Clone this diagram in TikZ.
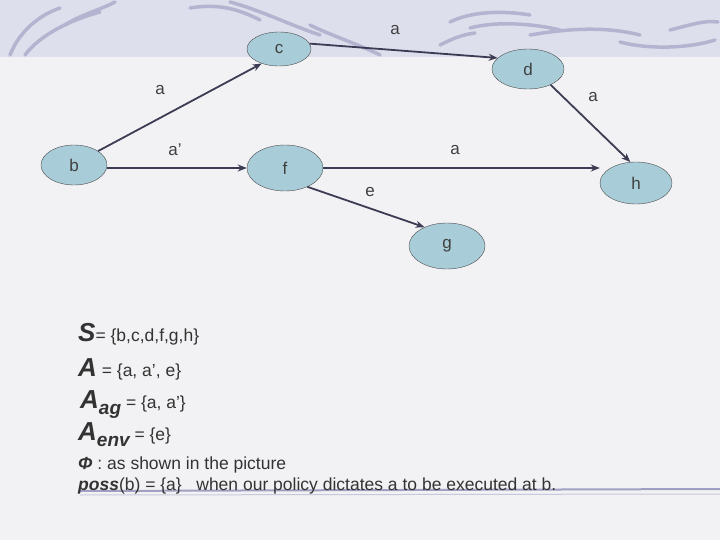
\documentclass[tikz,border=0pt]{standalone}
\usepackage{fontspec}
\setmainfont{Liberation Sans}
\usetikzlibrary{arrows.meta,shapes.geometric}
\definecolor{bgc}{RGB}{242,242,244}
\definecolor{topc}{RGB}{222,223,236}
\definecolor{wavc}{RGB}{180,180,208}
\definecolor{nodec}{RGB}{168,204,216}
\definecolor{arc}{RGB}{60,60,85}
\definecolor{ln1}{RGB}{160,160,195}
\definecolor{ln2}{RGB}{200,200,220}
\newcommand{\BL}[1]{{\fontsize{26}{28}\selectfont\bfseries\itshape #1}}
\newcommand{\SB}[1]{\raisebox{-6pt}{\fontsize{19}{19}\selectfont\bfseries\itshape #1}}
\begin{document}
\begin{tikzpicture}[x=1pt,y=-1pt,
  st/.style={draw=black!70,fill=nodec,ellipse,inner sep=0pt,font=\fontsize{17}{19}\selectfont,text=black!75},
  ar/.style={draw=arc,line width=1.8pt,-{Stealth[length=9pt,width=7pt]}},
  lb/.style={font=\fontsize{17}{19}\selectfont,text=black!75},
  tx/.style={font=\fontsize{17.5}{19}\selectfont,text=black!80,anchor=base west,inner sep=0pt}]
\useasboundingbox (0,0) rectangle (720,540);
\fill[bgc] (0,0) rectangle (720,540);
\fill[topc] (0,0) rectangle (720,57);
\begin{scope}[draw=wavc,line width=3.5pt,line cap=round]
\draw (10,55) .. controls (20,30) and (40,15) .. (60,8);
\draw (25,55) .. controls (40,35) and (70,20) .. (100,12);
\draw (65,25) .. controls (80,15) and (100,10) .. (115,2);
\draw (190,8) .. controls (220,3) and (240,10) .. (260,20);
\draw (230,2) .. controls (260,10) and (290,25) .. (320,35);
\draw (310,25) .. controls (330,35) and (360,45) .. (380,55);
\draw (450,22) .. controls (470,12) and (500,10) .. (530,15);
\draw (470,28) .. controls (500,20) and (540,25) .. (560,30);
\draw (530,35) .. controls (560,30) and (600,25) .. (640,35);
\draw (620,42) .. controls (650,50) and (690,48) .. (715,40);
\draw (670,30) .. controls (690,25) and (705,20) .. (718,22);
\draw (440,45) .. controls (450,40) and (460,35) .. (475,33);
\end{scope}
\draw[ln1,line width=2pt] (80,491) -- (720,489);
\draw[ln2,line width=1pt] (80,495) -- (720,494);
\node[st,minimum width=64pt,minimum height=34pt] (c) at (279,49) {c};
\node[st,minimum width=72pt,minimum height=40pt] (d) at (528,69) {d};
\node[st,minimum width=66pt,minimum height=40pt] (b) at (74,165) {b};
\node[st,minimum width=76pt,minimum height=46pt] (f) at (285,168) {f};
\node[st,minimum width=72pt,minimum height=42pt] (h) at (636,183) {h};
\node[st,minimum width=76pt,minimum height=46pt] (g) at (447,246) {g};
\draw[ar] (b.30) -- (c.220);
\draw[ar] (c.10) -- (d.160);
\draw[ar] (d.325) -- (h.105);
\draw[ar] (b.east |- f.west) -- (f.west);
\draw[ar] (f.east) -- (f.east -| h.west);
\draw[ar] (f.320) -- (g.140);
\node[lb] (l1) at (395,30) {a};
\node[lb] (l2) at (160,90) {a};
\node[lb] (l3) at (175,150) {a’};
\node[lb] (l4) at (455,150) {a};
\node[lb] (l5) at (593,97) {a};
\node[lb] (l6) at (370,192) {e};
\node[tx] (t1) at (78,341) {\BL{S}= \{b,c,d,f,g,h\}};
\node[tx] (t2) at (78,376) {\BL{A} = \{a, a’, e\}};
\node[tx] (t3) at (80,408) {\BL{A}\SB{ag} = \{a, a’\}};
\node[tx] (t4) at (78,440) {\BL{A}\SB{env} = \{e\}};
\node[tx] (t5) at (78,469) {{\bfseries\itshape Φ} : as shown in the picture};
\node[tx] (t6) at (78,490) {{\bfseries\itshape poss}(b) = \{a\}\ \ \ when our policy dictates a to be executed at b.};
\end{tikzpicture}
\end{document}
